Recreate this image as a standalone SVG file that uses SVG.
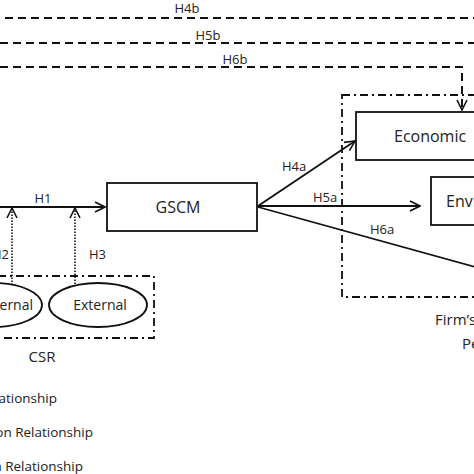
<svg xmlns="http://www.w3.org/2000/svg" width="474" height="474" viewBox="0 0 474 474">
<defs>
<marker id="arr" viewBox="0 0 12 12" refX="11" refY="6" markerWidth="12" markerHeight="12" markerUnits="userSpaceOnUse" orient="auto">
<polyline points="1,1 11,6 1,11" fill="none" stroke="#111" stroke-width="1.6"/>
</marker>
</defs>
<style>
text{font-family:"Open Sans","Noto Sans","Liberation Sans",sans-serif;fill:#222}
.lbl{font-size:13px}
.box{fill:#fff;stroke:#111;stroke-width:1.8}
.node{font-size:16px}
.solid{fill:none;stroke:#111;stroke-width:1.8}
.dash{fill:none;stroke:#111;stroke-width:2;stroke-dasharray:8 5}
.dot{fill:none;stroke:#111;stroke-width:1.6;stroke-dasharray:1.5 1.5}
.dd{fill:none;stroke:#111;stroke-width:1.8;stroke-dasharray:8 4 2 4}
.leg{font-size:13.5px}
</style>
<rect width="474" height="474" fill="#fff"/>
<g id="groups">
<rect class="dd" x="342" y="95" width="160" height="202"/>
<rect class="dd" x="-20" y="276" width="174" height="62"/>
<text x="42" y="362" font-size="15" text-anchor="middle">CSR</text>
<text x="435" y="325" font-size="15">Firm’s</text>
<text x="462" y="349" font-size="15">Performance</text>
</g>
<g id="connectors">
<polyline class="dash" points="5,18 474,18"/>
<polyline class="dash" points="0,43 474,43"/>
<polyline class="dash" points="0,67 462,67 462,110" marker-end="url(#arr)"/>
<line class="solid" x1="0" y1="207" x2="105" y2="207" marker-end="url(#arr)"/>
<line class="dot" x1="12" y1="285" x2="12" y2="208" marker-end="url(#arr)"/>
<line class="dot" x1="75" y1="284" x2="75" y2="208" marker-end="url(#arr)"/>
<line class="solid" x1="258" y1="206" x2="355" y2="141" marker-end="url(#arr)"/>
<line class="solid" x1="258" y1="206" x2="420" y2="206" marker-end="url(#arr)"/>
<line class="solid" x1="258" y1="207" x2="490" y2="271"/>
<text class="lbl" x="187" y="13" text-anchor="middle">H4b</text>
<text class="lbl" x="208" y="40" text-anchor="middle">H5b</text>
<text class="lbl" x="235" y="64" text-anchor="middle">H6b</text>
<text class="lbl" x="43" y="203" text-anchor="middle">H1</text>
<text class="lbl" x="9" y="259" text-anchor="end">H2</text>
<text class="lbl" x="89" y="259">H3</text>
<text class="lbl" x="294" y="171" text-anchor="middle">H4a</text>
<text class="lbl" x="325" y="202" text-anchor="middle">H5a</text>
<text class="lbl" x="382" y="234" text-anchor="middle">H6a</text>
</g>
<g id="gscm">
<rect class="box" x="107" y="183" width="150" height="48"/>
<text class="node" x="178" y="213" text-anchor="middle">GSCM</text>
</g>
<g id="economic">
<rect class="box" x="356" y="112" width="170" height="48"/>
<text class="node" x="394" y="142">Economic</text>
</g>
<g id="environmental">
<rect class="box" x="431" y="177" width="150" height="48"/>
<text class="node" x="446" y="207">Environmental</text>
</g>
<g id="internal">
<ellipse class="box" cx="-6" cy="305" rx="48" ry="22"/>
<text x="33" y="310" font-size="14" text-anchor="end">Internal</text>
</g>
<g id="external">
<ellipse class="box" cx="98" cy="305" rx="49" ry="22"/>
<text x="100" y="310" font-size="14" text-anchor="middle">External</text>
</g>
<g id="legend">
<text class="leg" x="57" y="403" text-anchor="end">Direct Relationship</text>
<text class="leg" x="93" y="437" text-anchor="end">Mediation Relationship</text>
<text class="leg" x="83" y="471" text-anchor="end">Moderation Relationship</text>
</g>
</svg>
